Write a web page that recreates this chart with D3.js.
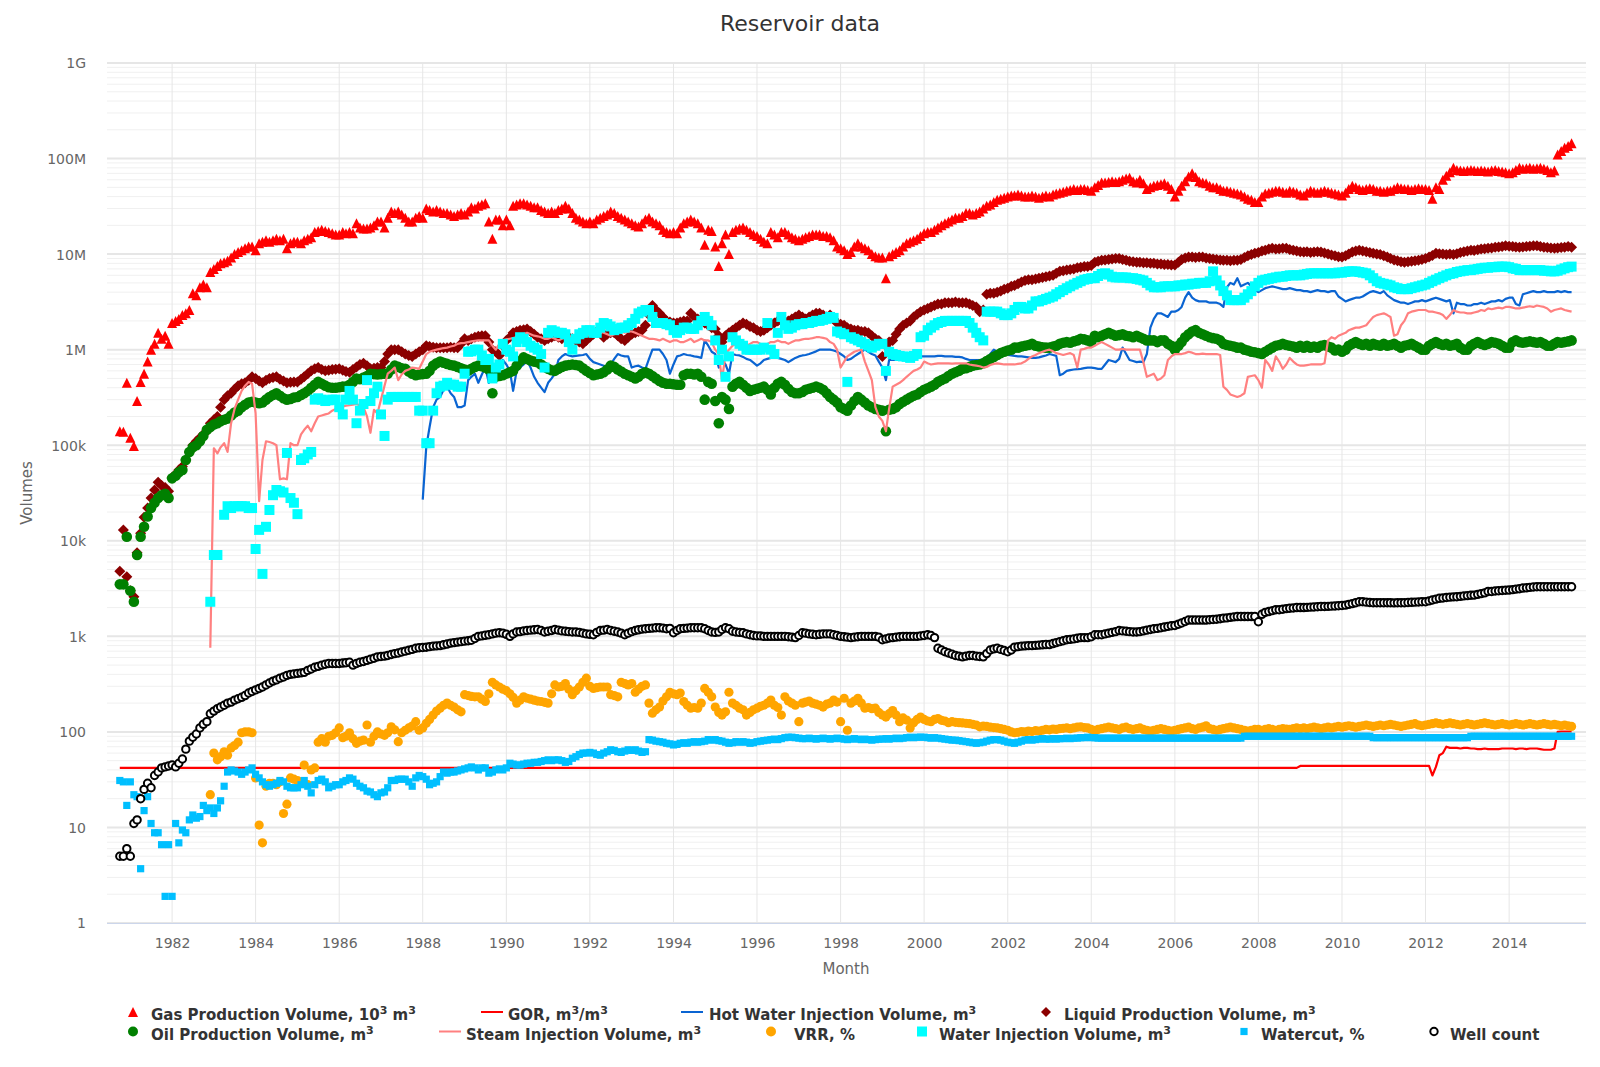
<!DOCTYPE html>
<html><head><meta charset="utf-8">
<script src="https://cdn.jsdelivr.net/npm/d3@7"></script>
<style>
html,body{margin:0;padding:0;background:#fff;}
svg{display:block;font-family:"DejaVu Sans",Verdana,sans-serif;}
svg text{font-family:"DejaVu Sans",Verdana,sans-serif;}
</style></head><body>
<svg id="chart" width="1600" height="1067"></svg>
<script>
// ---------------- DATA ----------------
// Each series: one row per year 1980..2015, monthly values (1980 starts in October, 2015 ends in July)
const chartTitle = "Reservoir data";
const xAxisTitle = "Month";
const yAxisTitle = "Volumes";
const xTickYears = [1982,1984,1986,1988,1990,1992,1994,1996,1998,2000,2002,2004,2006,2008,2010,2012,2014];
const yTickValues = [1,10,100,1e3,1e4,1e5,1e6,1e7,1e8,1e9];
const yTickLabels = ["1","10","100","1k","10k","100k","1M","10M","100M","1G"];
const seriesLabels = ["Gas Production Volume, 10^3 m^3","GOR, m^3/m^3","Hot Water Injection Volume, m^3","Liquid Production Volume, m^3","Oil Production Volume, m^3","Steam Injection Volume, m^3","VRR, %","Water Injection Volume, m^3","Watercut, %","Well count"];

const gasProduction = [
[140e3,138e3,450e3],
[120e3,98e3,290e3,460e3,560e3,750e3,1.0e6,1.15e6,1.5e6,1.3e6,1.4e6,1.15e6],
[1.9e6,2.0e6,2.1e6,2.3e6,2.4e6,2.6e6,3.9e6,3.7e6,4.5e6,4.8e6,4.5e6,6.5e6],
[7e6,7.5e6,8e6,8.2e6,8.5e6,9.2e6,10e6,10.5e6,11e6,11.5e6,12e6,12e6],
[11e6,13e6,13.5e6,14e6,13.5e6,14e6,14.5e6,14e6,14.5e6,11.5e6,13e6,13.5e6],
[13.5e6,13e6,14e6,14.5e6,15e6,17e6,17.5e6,18e6,17.5e6,17e6,16.5e6,16e6],
[16e6,17e6,16.5e6,17e6,16.5e6,21e6,19e6,18.5e6,18.5e6,19e6,20e6,22e6],
[22e6,19e6,24e6,28e6,27e6,28e6,26e6,24e6,22e6,22e6,24e6,25e6],
[24e6,30e6,29e6,28e6,29e6,28e6,27e6,27e6,26e6,25e6,26e6,27e6],
[26e6,28e6,31e6,30e6,32e6,33e6,34e6,22e6,14.5e6,23e6,23e6,20e6],
[23e6,20e6,32e6,33e6,34e6,34e6,33e6,32e6,31e6,31e6,29e6,28e6],
[27e6,28e6,27e6,29e6,30e6,32e6,30e6,27e6,24e6,23e6,22e6,21e6],
[22e6,21e6,23e6,24e6,25e6,26e6,28e6,27e6,25e6,24e6,23e6,22e6],
[21e6,20e6,19.5e6,21e6,23e6,24e6,22e6,21e6,20e6,18e6,17e6,16.5e6],
[17e6,16.5e6,19e6,21e6,22e6,23e6,22e6,21e6,19e6,12.5e6,18e6,17.5e6],
[12e6,7.5e6,13e6,16e6,10e6,17e6,18e6,18.5e6,19e6,18e6,17e6,16e6],
[15.5e6,14.5e6,13.5e6,13e6,17e6,16e6,15e6,17e6,17e6,16e6,15e6,14.5e6],
[14e6,14.5e6,15e6,15.5e6,16e6,16e6,16e6,15.5e6,15.5e6,15e6,14e6,12e6],
[11.5e6,11e6,10e6,10.5e6,12e6,13e6,12e6,11.5e6,11e6,10e6,9.5e6,9.2e6],
[9.2e6,5.6e6,9.5e6,10e6,10.5e6,11e6,12e6,13e6,13.5e6,14e6,14.5e6,15.5e6],
[16.5e6,17e6,17e6,18e6,19e6,20e6,21e6,22e6,23e6,24e6,24e6,25e6],
[27e6,27e6,26e6,27e6,28e6,30e6,32e6,33e6,35e6,37e6,38e6,39e6],
[40e6,41e6,41e6,42e6,41e6,40e6,40e6,41e6,40e6,39e6,40e6,41e6],
[40e6,42e6,43e6,44e6,45e6,46e6,47e6,48e6,47e6,48e6,48e6,47e6],
[46e6,50e6,53e6,56e6,56e6,57e6,58e6,57e6,58e6,60e6,62e6,63e6],
[58e6,56e6,60e6,55e6,48e6,50e6,52e6,53e6,54e6,55e6,52e6,48e6],
[40e6,46e6,52e6,58e6,65e6,70e6,64e6,58e6,56e6,55e6,52e6,50e6],
[50e6,48e6,46e6,46e6,45e6,44e6,43e6,42e6,40e6,38e6,37e6,35e6],
[35e6,40e6,43e6,44e6,45e6,46e6,46e6,45e6,44e6,46e6,45e6,44e6],
[42e6,41e6,44e6,46e6,45e6,44e6,45e6,46e6,45e6,44e6,43e6,42e6],
[41e6,44e6,48e6,52e6,50e6,48e6,47e6,48e6,49e6,48e6,46e6,46e6],
[45e6,46e6,46e6,48e6,50e6,49e6,48e6,48e6,47e6,48e6,49e6,48e6],
[48e6,47e6,38e6,50e6,48e6,60e6,66e6,72e6,80e6,76e6,75e6,74e6],
[75e6,76e6,75e6,74e6,75e6,74e6,73e6,75e6,76e6,74e6,73e6,72e6],
[70e6,72e6,76e6,80e6,78e6,79e6,80e6,78e6,79e6,80e6,78e6,76e6],
[72e6,75e6,110e6,120e6,130e6,135e6,145e6]
];

const gorRatio = [
[42,42,42],
[42,42,42,42,42,42,42,42,42,42,42,42],[42,42,42,42,42,42,42,42,42,42,42,42],
[42,42,42,42,42,42,42,42,42,42,42,42],[42,42,42,42,42,42,42,42,42,42,42,42],
[42,42,42,42,42,42,42,42,42,42,42,42],[42,42,42,42,42,42,42,42,42,42,42,42],
[42,42,42,42,42,42,42,42,42,42,42,42],[42,42,42,42,42,42,42,42,42,42,42,42],
[42,42,42,42,42,42,42,42,42,42,42,42],[42,42,42,42,42,42,42,42,42,42,42,42],
[42,42,42,42,42,42,42,42,42,42,42,42],[42,42,42,42,42,42,42,42,42,42,42,42],
[42,42,42,42,42,42,42,42,42,42,42,42],[42,42,42,42,42,42,42,42,42,42,42,42],
[42,42,42,42,42,42,42,42,42,42,42,42],[42,42,42,42,42,42,42,42,42,42,42,42],
[42,42,42,42,42,42,42,42,42,42,42,42],[42,42,42,42,42,42,42,42,42,42,42,42],
[42,42,42,42,42,42,42,42,42,42,42,42],[42,42,42,42,42,42,42,42,42,42,42,42],
[42,42,42,42,42,42,42,42,42,42,42,42],[42,42,42,42,42,42,42,42,42,42,42,42],
[42,42,42,42,42,42,42,42,42,42,42,42],[42,42,42,42,42,42,42,42,42,42,42,42],
[42,42,42,42,42,42,42,42,42,42,42,42],[42,42,42,42,42,42,42,42,42,42,42,42],
[42,42,42,42,42,42,42,42,42,42,42,42],[42,42,42,42,42,42,42,42,42,42,42,42],
[44,44,44,44,44,44,44,44,44,44,44,44],
[44,44,44,44,44,44,44,44,44,44,44,44],
[44,44,44,44,44,44,44,44,44,44,44,44],
[44,44,35,43,57,60,70,68,68,68,67,68],
[68,67,67,66,66,67,66,66,66,66,67,67],
[67,67,66,67,67,66,67,67,67,66,65,65],
[65,67,100,101,101,101,101]
];

const hotWaterInjection = [
[],[],[],[],[],[],[],[],
[27e3,96e3,155e3,250e3,300e3,320e3,380e3,410e3,350e3,320e3,250e3,250e3],
[260e3,480e3,520e3,560e3,450e3,550e3,650e3,450e3,500e3,560e3,620e3,780e3],
[700e3,600e3,370e3,600e3,650e3,700e3,780e3,650e3,520e3,450e3,400e3,360e3],
[450e3,500e3,560e3,780e3,850e3,900e3,870e3,850e3,860e3,870e3,880e3,900e3],
[800e3,740e3,720e3,700e3,680e3,650e3,700e3,800e3,900e3,870e3,850e3,850e3],
[650e3,670e3,680e3,650e3,630e3,800e3,1.0e6,1.0e6,1.0e6,900e3,780e3,560e3],
[700e3,850e3,870e3,900e3,880e3,870e3,850e3,840e3,820e3,1.25e6,1.1e6,950e3],
[900e3,650e3,780e3,700e3,560e3,900e3,880e3,870e3,840e3,800e3,780e3,730e3],
[680e3,720e3,780e3,800e3,820e3,850e3,820e3,800e3,780e3,740e3,780e3,820e3],
[850e3,870e3,880e3,900e3,930e3,960e3,1.0e6,1.0e6,1.0e6,1.0e6,980e3,950e3],
[900e3,850e3,780e3,800e3,850e3,900e3,950e3,1.0e6,950e3,900e3,870e3,750e3],
[650e3,480e3,780e3,780e3,780e3,780e3,800e3,820e3,840e3,850e3,850e3,850e3],
[850e3,850e3,850e3,850e3,860e3,860e3,850e3,850e3,850e3,840e3,840e3,830e3],
[800e3,780e3,780e3,780e3,780e3,790e3,800e3,900e3,1.0e6,950e3,900e3,900e3],
[880e3,870e3,860e3,850e3,850e3,840e3,830e3,820e3,820e3,830e3,850e3,870e3],
[900e3,880e3,860e3,540e3,560e3,600e3,610e3,620e3,625e3,630e3,640e3,650e3],
[650e3,640e3,630e3,630e3,700e3,780e3,760e3,740e3,800e3,1.05e6,900e3,780e3],
[760e3,740e3,750e3,740e3,900e3,1.7e6,2.1e6,2.4e6,2.4e6,2.3e6,2.2e6,2.5e6],
[2.5e6,2.6e6,2.8e6,3.5e6,4.0e6,3.5e6,3.3e6,3.2e6,3.2e6,3.2e6,3.1e6,3.1e6],
[3.1e6,3.0e6,2.8e6,4.5e6,5.0e6,4.8e6,5.6e6,4.6e6,4.8e6,5.0e6,4.6e6,4.2e6],
[4.0e6,4.2e6,4.4e6,4.5e6,4.6e6,4.5e6,4.4e6,4.3e6,4.3e6,4.4e6,4.3e6,4.2e6],
[4.2e6,4.1e6,4.1e6,4.0e6,4.1e6,4.2e6,4.1e6,4.1e6,4.0e6,4.1e6,4.1e6,3.6e6],
[3.4e6,3.2e6,3.3e6,3.4e6,3.5e6,3.5e6,3.6e6,3.8e6,4.0e6,4.1e6,4.0e6,3.9e6],
[4.1e6,3.7e6,3.5e6,3.3e6,3.2e6,3.1e6,3.1e6,3.0e6,3.1e6,3.2e6,3.2e6,3.3e6],
[3.2e6,3.3e6,3.4e6,3.5e6,3.4e6,3.3e6,3.2e6,3.3e6,2.4e6,3.1e6,3.0e6,3.0e6],
[2.9e6,2.9e6,3.0e6,3.0e6,3.1e6,3.0e6,3.1e6,3.2e6,3.2e6,3.3e6,3.2e6,3.4e6],
[3.5e6,3.5e6,3.0e6,2.9e6,3.8e6,3.9e6,4.0e6,4.1e6,4.0e6,4.0e6,4.1e6,4.0e6],
[4.0e6,4.0e6,4.1e6,4.0e6,4.1e6,4.0e6,4.0e6]
];

const liquidProduction = [
[4.8e3,13e3,4.2e3],
[3.0e3,2.6e3,7.5e3,12e3,17.6e3,22e3,28e3,34e3,41e3,38e3,36e3,33e3],
[46e3,50e3,55e3,60e3,70e3,85e3,100e3,110e3,120e3,130e3,140e3,170e3],
[185e3,200e3,250e3,300e3,330e3,350e3,385e3,420e3,440e3,450e3,480e3,520e3],
[500e3,470e3,450e3,480e3,500e3,510e3,520e3,490e3,470e3,450e3,455e3,460e3],
[460e3,490e3,520e3,560e3,600e3,630e3,650e3,620e3,600e3,610e3,620e3,625e3],
[630e3,610e3,590e3,580e3,620e3,660e3,700e3,720e3,680e3,630e3,640e3,650e3],
[650e3,750e3,900e3,1.0e6,1.0e6,1.0e6,950e3,900e3,870e3,850e3,900e3,950e3],
[1.0e6,1.1e6,1.08e6,1.06e6,1.05e6,1.05e6,1.05e6,1.05e6,1.06e6,1.05e6,1.05e6,1.15e6],
[1.3e6,1.25e6,1.3e6,1.35e6,1.38e6,1.4e6,1.4e6,1.2e6,1.0e6,950e3,870e3,1.1e6],
[1.25e6,1.35e6,1.5e6,1.55e6,1.6e6,1.62e6,1.65e6,1.55e6,1.45e6,1.35e6,1.3e6,1.25e6],
[1.3e6,1.35e6,1.4e6,1.35e6,1.3e6,1.35e6,1.35e6,1.3e6,1.25e6,1.2e6,1.15e6,1.25e6],
[1.35e6,1.45e6,1.55e6,1.65e6,1.35e6,1.45e6,1.5e6,1.5e6,1.4e6,1.3e6,1.25e6,1.35e6],
[1.45e6,1.5e6,1.55e6,1.6e6,1.8e6,2.3e6,2.9e6,2.6e6,2.4e6,2.2e6,2.0e6,1.95e6],
[1.9e6,1.9e6,1.95e6,2.0e6,2.0e6,2.4e6,2.2e6,2.1e6,2.0e6,1.9e6,1.8e6,1.7e6],
[1.65e6,1.4e6,1.2e6,1.4e6,1.5e6,1.6e6,1.7e6,1.8e6,1.9e6,1.85e6,1.75e6,1.7e6],
[1.6e6,1.55e6,1.6e6,1.7e6,1.8e6,1.9e6,2.0e6,2.0e6,1.95e6,2.0e6,2.1e6,2.2e6],
[2.3e6,2.2e6,2.1e6,2.2e6,2.3e6,2.4e6,2.4e6,2.3e6,2.2e6,2.3e6,2.1e6,1.9e6],
[1.85e6,1.8e6,1.7e6,1.65e6,1.6e6,1.6e6,1.55e6,1.55e6,1.5e6,1.4e6,1.3e6,1.25e6],
[850e3,1.1e6,1.2e6,1.25e6,1.45e6,1.65e6,1.8e6,1.9e6,2.0e6,2.2e6,2.35e6,2.5e6],
[2.6e6,2.7e6,2.8e6,2.9e6,3.0e6,3.0e6,3.1e6,3.1e6,3.1e6,3.15e6,3.1e6,3.1e6],
[3.1e6,3.0e6,2.9e6,2.8e6,2.5e6,2.6e6,3.8e6,3.9e6,3.9e6,4.0e6,4.1e6,4.3e6],
[4.4e6,4.6e6,4.7e6,4.9e6,5.1e6,5.3e6,5.4e6,5.4e6,5.5e6,5.6e6,5.7e6,5.8e6],
[5.9e6,6.0e6,6.3e6,6.6e6,6.7e6,6.8e6,6.9e6,7.0e6,7.2e6,7.3e6,7.4e6,7.4e6],
[7.6e6,8.2e6,8.4e6,8.6e6,8.7e6,8.8e6,8.9e6,9.0e6,9.0e6,8.8e6,8.6e6,8.4e6],
[8.3e6,8.2e6,8.2e6,8.1e6,8.1e6,8.0e6,8.0e6,7.9e6,7.9e6,7.8e6,7.8e6,7.7e6],
[7.7e6,8.2e6,8.8e6,9.1e6,9.3e6,9.3e6,9.2e6,9.3e6,9.3e6,9.1e6,9.0e6,8.9e6],
[8.8e6,8.7e6,8.6e6,8.6e6,8.5e6,8.6e6,8.6e6,8.8e6,9.2e6,9.6e6,9.9e6,10.2e6],
[10.4e6,10.8e6,11.0e6,11.3e6,11.5e6,11.3e6,11.4e6,11.5e6,11.5e6,11.2e6,11.0e6,10.8e6],
[10.6e6,10.5e6,10.6e6,10.4e6,10.5e6,10.6e6,10.5e6,10.3e6,10.0e6,9.8e6,9.6e6,9.4e6],
[9.3e6,9.6e6,10.0e6,10.5e6,10.8e6,11.0e6,10.8e6,10.6e6,10.4e6,10.2e6,10.0e6,9.9e6],
[9.6e6,9.3e6,9.0e6,8.7e6,8.5e6,8.3e6,8.2e6,8.3e6,8.4e6,8.5e6,8.6e6,8.8e6],
[9.0e6,9.3e6,9.7e6,10.2e6,10.1e6,10.0e6,9.9e6,10.0e6,9.9e6,10.1e6,10.4e6,10.6e6],
[10.8e6,11.0e6,10.9e6,11.1e6,11.3e6,11.4e6,11.5e6,11.6e6,11.8e6,11.9e6,12.0e6,12.2e6],
[12.1e6,12.0e6,11.9e6,11.8e6,11.9e6,12.0e6,12.1e6,12.2e6,12.2e6,12.0e6,11.8e6,11.7e6],
[11.6e6,11.5e6,11.6e6,11.7e6,11.8e6,12.0e6,11.8e6]
];

const oilProduction = [
[3.5e3,3.5e3,11e3],
[3.0e3,2.3e3,7.1e3,11e3,14e3,18e3,22e3,25e3,28e3,30e3,31e3,28e3],
[45e3,48e3,52e3,55e3,70e3,85e3,95e3,100e3,110e3,125e3,145e3,155e3],
[165e3,170e3,178e3,185e3,190e3,205e3,220e3,230e3,250e3,265e3,280e3,285e3],
[280e3,275e3,280e3,300e3,320e3,335e3,350e3,330e3,310e3,300e3,305e3,315e3],
[320e3,335e3,350e3,370e3,400e3,430e3,460e3,440e3,420e3,405e3,400e3,400e3],
[405e3,410e3,410e3,430e3,460e3,500e3,490e3,510e3,530e3,560e3,555e3,550e3],
[555e3,560e3,560e3,620e3,680e3,660e3,640e3,630e3,590e3,560e3,540e3,550e3],
[555e3,560e3,600e3,680e3,720e3,750e3,730e3,710e3,690e3,680e3,660e3,640e3],
[620e3,600e3,630e3,660e3,680e3,670e3,650e3,620e3,350e3,520e3,530e3,540e3],
[560e3,580e3,600e3,680e3,760e3,830e3,800e3,770e3,750e3,740e3,700e3,660e3],
[630e3,610e3,600e3,630e3,660e3,680e3,690e3,700e3,690e3,680e3,640e3,600e3],
[570e3,540e3,550e3,560e3,580e3,620e3,680e3,660e3,620e3,590e3,560e3,540e3],
[520e3,500e3,520e3,560e3,580e3,560e3,530e3,500e3,470e3,450e3,440e3,440e3],
[435e3,430e3,430e3,540e3,560e3,560e3,550e3,560e3,520e3,300e3,460e3,440e3],
[290e3,170e3,320e3,300e3,240e3,410e3,440e3,460e3,430e3,400e3,370e3,380e3],
[390e3,400e3,410e3,380e3,340e3,400e3,440e3,460e3,430e3,390e3,360e3,350e3],
[350e3,360e3,380e3,390e3,400e3,410e3,400e3,380e3,350e3,320e3,300e3,280e3],
[250e3,240e3,230e3,260e3,290e3,320e3,300e3,280e3,260e3,250e3,240e3,235e3],
[230e3,140e3,235e3,240e3,250e3,270e3,285e3,300e3,315e3,330e3,340e3,360e3],
[380e3,395e3,410e3,430e3,460e3,480e3,500e3,530e3,560e3,580e3,600e3,630e3],
[640e3,660e3,680e3,690e3,700e3,720e3,760e3,800e3,840e3,880e3,920e3,950e3],
[980e3,1.0e6,1.05e6,1.05e6,1.08e6,1.1e6,1.12e6,1.15e6,1.1e6,1.08e6,1.06e6,1.05e6],
[1.05e6,1.08e6,1.1e6,1.15e6,1.18e6,1.2e6,1.18e6,1.22e6,1.25e6,1.3e6,1.28e6,1.25e6],
[1.2e6,1.4e6,1.35e6,1.4e6,1.45e6,1.5e6,1.45e6,1.4e6,1.42e6,1.45e6,1.4e6,1.38e6],
[1.35e6,1.4e6,1.35e6,1.3e6,1.25e6,1.25e6,1.25e6,1.2e6,1.25e6,1.25e6,1.15e6,1.1e6],
[1.0e6,1.1e6,1.2e6,1.35e6,1.45e6,1.55e6,1.6e6,1.5e6,1.45e6,1.4e6,1.35e6,1.32e6],
[1.3e6,1.25e6,1.15e6,1.12e6,1.1e6,1.08e6,1.05e6,1.05e6,1.0e6,0.98e6,0.95e6,0.94e6],
[0.92e6,0.9e6,0.95e6,1.0e6,1.05e6,1.1e6,1.12e6,1.15e6,1.12e6,1.1e6,1.08e6,1.05e6],
[1.1e6,1.05e6,1.1e6,1.05e6,1.08e6,1.05e6,1.1e6,1.12e6,1.08e6,1.05e6,0.98e6,1.0e6],
[0.95e6,1.0e6,1.1e6,1.15e6,1.2e6,1.15e6,1.12e6,1.15e6,1.1e6,1.15e6,1.12e6,1.1e6],
[1.15e6,1.1e6,1.12e6,1.15e6,1.1e6,1.05e6,1.1e6,1.12e6,1.15e6,1.1e6,1.05e6,1.0e6],
[1.0e6,1.1e6,1.15e6,1.2e6,1.15e6,1.12e6,1.15e6,1.1e6,1.12e6,1.15e6,1.05e6,1.0e6],
[1.0e6,1.1e6,1.15e6,1.2e6,1.15e6,1.12e6,1.15e6,1.2e6,1.18e6,1.15e6,1.1e6,1.05e6],
[1.05e6,1.2e6,1.25e6,1.2e6,1.18e6,1.2e6,1.22e6,1.2e6,1.18e6,1.2e6,1.15e6,1.1e6],
[1.1e6,1.15e6,1.2e6,1.18e6,1.2e6,1.22e6,1.25e6]
];

const steamInjection = [
[],
[],
[null,null,null,null,null,null,null,null,null,null,null,760],
[93e3,82e3,95e3,105e3,85e3,170e3,240e3,300e3,370e3,420e3,460e3,440e3],
[215e3,26e3,70e3,110e3,108e3,105e3,100e3,44e3,45e3,44e3,105e3,100e3],
[100e3,130e3,145e3,160e3,140e3,170e3,200e3,205e3,210e3,215e3,230e3,240e3],
[250e3,255e3,260e3,262e3,265e3,270e3,260e3,250e3,200e3,135e3,235e3,215e3],
[300e3,420e3,560e3,600e3,650e3,480e3,550e3,600e3,620e3,650e3,640e3,630e3],
[750e3,900e3,950e3,980e3,1.0e6,1.02e6,1.04e6,1.05e6,1.08e6,1.1e6,1.15e6,1.17e6],
[1.18e6,1.2e6,1.22e6,1.24e6,1.25e6,1.25e6,1.25e6,1.25e6,1.1e6,1.0e6,1.15e6,1.25e6],
[1.28e6,1.3e6,1.32e6,1.35e6,1.4e6,1.45e6,1.5e6,1.45e6,1.4e6,1.38e6,1.35e6,1.3e6],
[1.3e6,1.35e6,1.3e6,1.25e6,1.3e6,1.35e6,1.4e6,1.35e6,1.3e6,1.3e6,1.35e6,1.4e6],
[1.4e6,1.45e6,1.5e6,1.55e6,1.5e6,1.45e6,1.4e6,1.45e6,1.5e6,1.55e6,1.5e6,1.55e6],
[1.55e6,1.5e6,1.45e6,1.4e6,1.35e6,1.3e6,1.3e6,1.28e6,1.25e6,1.3e6,1.25e6,1.2e6],
[1.25e6,1.25e6,1.2e6,1.2e6,1.25e6,1.3e6,1.2e6,1.25e6,1.3e6,1.25e6,1.25e6,1.2e6],
[1.0e6,900e3,480e3,900e3,1.0e6,1.1e6,1.15e6,1.2e6,1.15e6,1.1e6,1.15e6,1.2e6],
[1.2e6,1.15e6,1.1e6,1.15e6,1.2e6,1.2e6,1.25e6,1.2e6,1.2e6,1.15e6,1.2e6,1.25e6],
[1.25e6,1.28e6,1.3e6,1.3e6,1.32e6,1.35e6,1.35e6,1.33e6,1.3e6,1.2e6,1.15e6,1.0e6],
[650e3,750e3,850e3,900e3,950e3,980e3,1.0e6,750e3,600e3,480e3,250e3,200e3],
[180e3,140e3,240e3,410e3,430e3,450e3,480e3,520e3,560e3,600e3,620e3,650e3],
[750e3,720e3,700e3,710e3,720e3,720e3,720e3,720e3,715e3,720e3,720e3,720e3],
[720e3,700e3,690e3,680e3,670e3,650e3,660e3,690e3,710e3,720e3,710e3,700e3],
[700e3,700e3,700e3,710e3,720e3,750e3,800e3,850e3,880e3,920e3,950e3,980e3],
[1.0e6,960e3,920e3,900e3,880e3,900e3,920e3,880e3,650e3,1.0e6,1.02e6,1.05e6],
[1.05e6,1.1e6,1.15e6,1.2e6,1.15e6,1.1e6,1.05e6,1.0e6,1.0e6,1.02e6,1.0e6,1.0e6],
[1.0e6,1.0e6,1.0e6,740e3,520e3,540e3,560e3,480e3,500e3,540e3,780e3,850e3],
[900e3,900e3,900e3,920e3,950e3,930e3,900e3,900e3,910e3,900e3,900e3,900e3],
[900e3,880e3,410e3,380e3,340e3,330e3,320e3,330e3,350e3,520e3,530e3,540e3],
[480e3,400e3,780e3,700e3,600e3,850e3,750e3,630e3,700e3,820e3,750e3,700e3],
[680e3,680e3,690e3,700e3,700e3,700e3,700e3,720e3,1.25e6,1.35e6,1.3e6,1.4e6],
[1.45e6,1.5e6,1.6e6,1.65e6,1.7e6,1.7e6,1.75e6,1.8e6,2.0e6,2.2e6,2.3e6,2.35e6],
[2.4e6,2.3e6,2.2e6,1.4e6,1.45e6,1.8e6,2.0e6,2.4e6,2.5e6,2.55e6,2.6e6,2.6e6],
[2.6e6,2.5e6,2.5e6,2.45e6,2.4e6,2.3e6,2.1e6,2.3e6,2.6e6,2.5e6,2.45e6,2.45e6],
[2.4e6,2.4e6,2.45e6,2.5e6,2.6e6,2.55e6,2.7e6,2.65e6,2.7e6,2.75e6,2.7e6,2.8e6],
[2.8e6,2.75e6,2.7e6,2.7e6,2.75e6,2.8e6,2.85e6,2.8e6,2.9e6,2.85e6,2.8e6,2.7e6],
[2.5e6,2.6e6,2.65e6,2.7e6,2.6e6,2.55e6,2.5e6]
];

const vrrPercent = [
[],[],
[null,null,null,null,null,null,null,null,null,null,null,22],
[60,51,55,62,57,68,72,78,98,100,100,98],
[33,10.6,6.9,27,29,29,28,30,14,17.5,33,32],
[31,29,45,28,40,42,78,85,78,90,92,98],
[110,87,90,98,85,76,80,82,118,78,90,100],
[95,92,98,113,105,79,98,104,110,115,128,104],
[110,123,135,150,165,177,190,200,190,182,170,162],
[245,240,235,233,233,220,208,250,330,310,295,280],
[270,250,230,200,215,233,225,220,215,210,208,204],
[200,250,310,295,300,320,280,245,270,295,330,365],
[300,285,290,295,295,295,245,240,233,330,320,310],
[320,260,280,300,310,200,157,170,182,210,233,260],
[250,245,255,208,190,177,180,177,200,285,260,233],
[182,160,150,162,260,200,190,177,170,150,160,170],
[177,185,190,200,215,190,180,150,233,210,200,190],
[128,200,205,210,200,195,190,182,195,200,215,205],
[128,225,104,200,210,225,200,177,180,175,177,160],
[150,143,155,167,150,128,140,133,110,125,135,143],
[135,130,128,135,138,132,130,125,128,126,125,124],
[123,122,120,118,113,115,114,112,111,110,108,106],
[104,100,98,99,101,100,102,101,103,102,104,106],
[105,107,106,108,109,110,108,110,112,113,111,110],
[106,104,106,108,110,112,110,108,106,110,112,108],
[106,108,110,106,104,102,104,106,108,106,104,102],
[104,106,108,110,112,108,106,110,112,116,108,106],
[104,106,108,110,112,110,108,106,104,102,104,106],
[106,104,106,108,106,104,106,108,107,106,108,110],
[108,110,108,110,112,110,108,110,112,110,112,114],
[112,114,116,114,112,114,116,118,116,114,116,118],
[116,118,120,118,116,114,116,118,120,122,118,116],
[118,120,122,124,122,120,122,124,122,120,118,120],
[122,120,118,120,122,124,122,120,118,120,122,120],
[118,120,122,120,118,120,122,120,118,120,122,120],
[118,120,118,116,118,116,114]
];

const waterInjection = [
[],[],
[null,null,null,null,null,null,null,null,null,null,null,2.3e3],
[7.1e3,7.1e3,null,18.7e3,23e3,22e3,23e3,23e3,23e3,23e3,22e3,22e3],
[8.2e3,13e3,4.5e3,14e3,21e3,30e3,34e3,33e3,32e3,83e3,28e3,25e3],
[19e3,70e3,73e3,80e3,85e3,300e3,310e3,300e3,290e3,295e3,300e3,300e3],
[250e3,210e3,300e3,370e3,300e3,170e3,230e3,270e3,480e3,290e3,350e3,410e3],
[210e3,125e3,300e3,320e3,320e3,320e3,320e3,320e3,320e3,320e3,320e3,230e3],
[230e3,105e3,105e3,230e3,350e3,410e3,420e3,450e3,430e3,430e3,410e3,410e3],
[560e3,950e3,960e3,1.0e6,1.0e6,870e3,780e3,800e3,500e3,650e3,700e3,1.15e6],
[1.0e6,950e3,850e3,1.2e6,1.35e6,1.3e6,1.2e6,1.1e6,1.05e6,1.0e6,900e3,650e3],
[1.5e6,1.6e6,1.55e6,1.5e6,1.5e6,1.45e6,1.2e6,1.0e6,1.3e6,1.45e6,1.5e6,1.6e6],
[1.6e6,1.5e6,1.5e6,1.7e6,1.9e6,1.85e6,1.75e6,1.6e6,1.65e6,1.7e6,1.7e6,1.8e6],
[1.9e6,2.1e6,2.4e6,2.5e6,2.6e6,2.6e6,2.2e6,1.9e6,1.9e6,1.9e6,1.85e6,1.8e6],
[1.6e6,1.5e6,1.6e6,1.7e6,1.7e6,1.65e6,1.65e6,1.8e6,2.0e6,2.2e6,2.0e6,1.8e6],
[1.25e6,780e3,1.0e6,520e3,850e3,1.35e6,1.25e6,1.15e6,1.1e6,1.0e6,1.0e6,1.0e6],
[1.0e6,1.0e6,1.05e6,1.9e6,1.0e6,900e3,1.5e6,2.2e6,1.8e6,1.65e6,1.7e6,1.8e6],
[1.85e6,1.85e6,1.9e6,1.9e6,1.95e6,2.0e6,2.0e6,2.05e6,2.1e6,2.2e6,2.15e6,1.55e6],
[1.5e6,1.45e6,460e3,1.35e6,1.3e6,1.25e6,1.2e6,1.15e6,1.1e6,1.05e6,1.1e6,1.15e6],
[1.15e6,600e3,950e3,900e3,880e3,860e3,850e3,840e3,820e3,860e3,900e3,1.35e6],
[1.4e6,1.6e6,1.7e6,1.8e6,1.9e6,1.95e6,2.0e6,2.0e6,2.0e6,2.0e6,2.0e6,2.0e6],
[2.0e6,1.9e6,1.7e6,1.5e6,1.35e6,1.25e6,2.5e6,2.5e6,2.5e6,2.5e6,2.4e6,2.3e6],
[2.3e6,2.4e6,2.6e6,2.8e6,2.8e6,2.7e6,2.7e6,2.9e6,3.2e6,3.2e6,3.3e6,3.4e6],
[3.5e6,3.6e6,3.8e6,4.0e6,4.2e6,4.4e6,4.6e6,4.8e6,5.0e6,5.2e6,5.4e6,5.5e6],
[5.6e6,5.6e6,5.9e6,6.2e6,6.3e6,6.1e6,5.8e6,5.7e6,5.7e6,5.7e6,5.7e6,5.6e6],
[5.6e6,5.5e6,5.4e6,5.3e6,5.0e6,4.7e6,4.5e6,4.5e6,4.5e6,4.6e6,4.6e6,4.6e6],
[4.6e6,4.7e6,4.7e6,4.8e6,4.8e6,4.9e6,4.9e6,5.0e6,5.0e6,5.0e6,5.2e6,6.6e6],
[5.3e6,4.7e6,4.1e6,3.7e6,3.3e6,3.3e6,3.3e6,3.3e6,3.5e6,3.8e6,4.1e6,4.6e6],
[5.0e6,5.3e6,5.4e6,5.5e6,5.6e6,5.7e6,5.8e6,5.8e6,5.9e6,6.0e6,6.0e6,6.0e6],
[6.0e6,6.1e6,6.2e6,6.3e6,6.3e6,6.3e6,6.3e6,6.3e6,6.3e6,6.3e6,6.3e6,6.4e6],
[6.4e6,6.5e6,6.6e6,6.6e6,6.6e6,6.5e6,6.4e6,6.3e6,6.0e6,5.6e6,5.2e6,5.0e6],
[4.9e6,4.8e6,4.7e6,4.5e6,4.4e6,4.3e6,4.3e6,4.3e6,4.4e6,4.5e6,4.6e6,4.7e6],
[4.8e6,5.0e6,5.2e6,5.4e6,5.6e6,5.8e6,6.0e6,6.2e6,6.3e6,6.5e6,6.6e6,6.7e6],
[6.8e6,6.8e6,6.9e6,7.0e6,7.1e6,7.2e6,7.2e6,7.3e6,7.3e6,7.4e6,7.4e6,7.4e6],
[7.3e6,7.1e6,7.0e6,6.8e6,6.8e6,6.8e6,6.8e6,6.8e6,6.8e6,6.8e6,6.7e6,6.7e6],
[6.6e6,6.6e6,6.7e6,6.9e6,7.1e6,7.3e6,7.4e6]
];

const watercutPercent = [
[31,30,17],
[30,22,21,3.7,15,21,11,8.8,8.8,6.6,1.9,6.6],
[1.9,11,6.9,9.4,8.8,12,13.5,12.5,13,17,15,16],
[14,16,19,27,38,40,39,38,36,38,40,42],
[36,33,30,28,27,28,29,31,30,27,26,26],
[26,28,31,27,23,28,31,32,30,26,27,28],
[28,30,31,33,32,29,27,26,24,23.5,22,21],
[23,23.5,26,31,31,32,32,32,30,27,33,35],
[34,32,28,29,30,34,38,37,38,38,39,40],
[41,42,43,42,40,42,42,37,38,40,41,40],
[42,47,46,45,45,46,47,47,48,48,49,50],
[51,50,51,51,50,48,49,53,55,58,60,60],
[61,60,58,57,60,62,65,64,62,61,63,65],
[64,65,63,61,62,83,82,80,79,78,76,75],
[73,74,76,77,76,78,79,78,79,80,83,82],
[83,81,80,78,76,77,79,78,79,78,76,77],
[79,80,81,82,83,84,83,85,87,88,88,87],
[86,85,85,86,85,84,85,86,85,84,85,86],
[85,84,83,84,85,84,83,84,83,82,83,84],
[84,85,84,85,86,85,86,87,88,87,88,88],
[88,87,86,87,86,85,84,83,82,82,81,80],
[79,78,77,76,77,78,80,82,83,83,82,80],
[78,77,76,78,80,82,83,82,83,84,85,84],
[84,85,84,85,85,86,85,86,86,87,87,88],
[87,87,86,86,86,86,86,86,86,86,86,86],
[86,86,86,86,86,86,86,86,86,86,86,86],
[86,86,86,86,86,86,86,86,86,86,86,86],
[86,86,86,86,86,86,86,86,90,90,90,90],
[90,90,90,90,90,90,90,90,90,90,90,90],
[90,90,90,90,90,90,90,90,90,90,90,90],
[90,90,90,90,90,90,90,90,90,87,87,87],
[87,87,87,87,87,87,87,87,87,87,87,87],
[87,87,87,87,87,87,87,87,87,87,87,87],
[87,90,90,90,90,90,90,90,90,90,90,90],
[90,90,90,90,90,90,90,90,90,90,90,90],
[90,90,90,90,90,90,90]
];

const wellCount = [
[5,5,6],
[5,11,12,20,25,29,26,35,38,42,43,44],
[45,43,47,52,66,80,88,95,110,120,128,155],
[165,175,182,190,200,205,215,222,230,240,255,265],
[275,285,295,310,325,340,350,365,375,390,400,405],
[410,415,420,440,455,475,485,500,510,520,520,520],
[520,525,530,535,500,520,535,545,560,575,590,610],
[615,620,630,645,660,670,685,700,715,730,750,760],
[765,770,780,790,795,800,815,830,850,860,870,880],
[890,900,910,950,1000,1010,1025,1040,1060,1080,1090,1080],
[1050,1000,1060,1110,1120,1140,1150,1160,1170,1180,1150,1110],
[1130,1150,1180,1160,1140,1130,1120,1110,1110,1100,1080,1060],
[1050,1040,1100,1150,1160,1180,1150,1130,1110,1080,1040,1080],
[1120,1150,1170,1190,1200,1210,1220,1230,1230,1220,1200,1210],
[1090,1150,1200,1210,1220,1230,1230,1230,1230,1200,1150,1110],
[1100,1110,1180,1230,1200,1130,1110,1100,1090,1060,1040,1020],
[1010,1010,1000,1000,1000,1000,1000,1000,1000,990,980,970],
[1020,1090,1080,1060,1050,1040,1050,1060,1060,1060,1040,1020],
[1000,990,980,970,980,990,1000,1000,1000,1000,1000,980],
[920,940,960,970,980,990,1000,1000,1000,1000,1000,1010],
[1020,1040,1020,970,750,720,690,670,650,630,620,610],
[620,630,630,620,615,610,660,720,740,750,730,710],
[690,720,770,780,790,795,800,800,805,810,815,820],
[820,840,860,880,900,920,930,940,955,970,970,970],
[990,1040,1040,1040,1060,1080,1100,1120,1150,1140,1130,1120],
[1110,1110,1120,1140,1160,1180,1200,1210,1230,1250,1270,1290],
[1300,1340,1380,1430,1480,1480,1480,1480,1480,1480,1490,1500],
[1510,1530,1550,1560,1580,1600,1610,1610,1610,1610,1610,1610],
[1420,1700,1780,1820,1860,1900,1900,1920,1950,1970,1980,2000],
[2000,2000,2010,2020,2030,2040,2050,2050,2060,2070,2080,2090],
[2100,2120,2160,2200,2250,2300,2300,2280,2260,2250,2250,2250],
[2250,2250,2250,2240,2250,2250,2250,2260,2270,2280,2290,2300],
[2300,2350,2400,2450,2500,2520,2550,2570,2590,2600,2620,2650],
[2670,2690,2700,2750,2800,2850,2950,2950,2980,3000,3020,3040],
[3050,3080,3120,3150,3200,3220,3250,3280,3300,3300,3300,3300],
[3300,3300,3300,3300,3300,3300,3300]
];

// ---------------- LAYOUT ----------------
const FONT = "DejaVu Sans, Verdana, sans-serif";
const plot = {left:107, right:1586, top:63, bottom:923};
const svg = d3.select("#chart");

const x = d3.scaleTime()
  .domain([new Date(1980,5,11), new Date(2015,10,4)])
  .range([plot.left, plot.right]);
const y = d3.scaleLog().domain([1,1e9]).range([plot.bottom, plot.top]);

function monthly(rows){
  const out = [];
  rows.forEach((row, yi) => {
    const year = 1980 + yi;
    const m0 = yi === 0 ? 9 : 0;
    row.forEach((v, k) => {
      if (v != null) out.push({date: new Date(year, m0 + k, 1), value: v});
    });
  });
  return out;
}

// Gridlines
const grid = svg.append("g");
for (let d = 0; d < 9; d++) {
  for (let k = 2; k <= 9; k++) {
    const v = k * Math.pow(10, d);
    grid.append("line").attr("x1", plot.left).attr("x2", plot.right)
      .attr("y1", y(v)).attr("y2", y(v)).attr("stroke", "#f0f0f0").attr("stroke-width", 1);
  }
}
yTickValues.forEach(v => {
  grid.append("line").attr("x1", plot.left).attr("x2", plot.right)
    .attr("y1", y(v)).attr("y2", y(v)).attr("stroke", "#e6e6e6").attr("stroke-width", 2);
});
xTickYears.forEach(yr => {
  const xv = x(new Date(yr,0,1));
  grid.append("line").attr("x1", xv).attr("x2", xv)
    .attr("y1", plot.top).attr("y2", plot.bottom).attr("stroke", "#e6e6e6").attr("stroke-width", 1);
});
svg.append("line").attr("x1", plot.left).attr("x2", plot.right)
  .attr("y1", plot.bottom + 0.5).attr("y2", plot.bottom + 0.5).attr("stroke", "#ccd6eb");

// Axis labels
const yAxis = d3.axisLeft(y).tickValues(yTickValues).tickFormat((d,i) => yTickLabels[i]).tickSize(0).tickPadding(0);
const yg = svg.append("g").attr("transform", `translate(86,0)`).call(yAxis)
  .attr("font-family", FONT).attr("font-size", 14);
yg.select(".domain").remove();
yg.selectAll("text").attr("fill", "#666").attr("x", 0).attr("dy", "0.35em");

const xAxis = d3.axisBottom(x).tickValues(xTickYears.map(yr => new Date(yr,0,1)))
  .tickFormat(d3.timeFormat("%Y")).tickSize(0).tickPadding(0);
const xg = svg.append("g").attr("transform", `translate(0,${plot.bottom})`).call(xAxis)
  .attr("font-family", FONT).attr("font-size", 14);
xg.select(".domain").remove();
xg.selectAll("text").attr("fill", "#666").attr("y", 25).attr("dy", 0);

svg.append("text").attr("x", 846).attr("y", 974).attr("text-anchor", "middle")
  .attr("fill", "#666").attr("font-family", FONT).attr("font-size", 15).text(xAxisTitle);
svg.append("text").attr("transform", "translate(32,493) rotate(-90)").attr("text-anchor", "middle")
  .attr("fill", "#666").attr("font-family", FONT).attr("font-size", 15).text(yAxisTitle);
svg.append("text").attr("x", 800).attr("y", 31).attr("text-anchor", "middle")
  .attr("fill", "#333").attr("font-family", FONT).attr("font-size", 22).text(chartTitle);

// Marker shapes
const shapes = {
  triangle: r => `M0,${-r}L${r},${r}L${-r},${r}Z`,
  diamond: r => `M0,${-r}L${r},0L0,${r}L${-r},0Z`,
  square: r => `M${-r},${-r}h${2*r}v${2*r}h${-2*r}Z`
};

const seriesDefs = [
  {rows: gasProduction, type: "marker", shape: "triangle", r: 5, color: "#ff0000"},
  {rows: gorRatio, type: "line", color: "#ff0000"},
  {rows: hotWaterInjection, type: "line", color: "#0a64d2"},
  {rows: liquidProduction, type: "marker", shape: "diamond", r: 5.5, color: "#8b0000"},
  {rows: oilProduction, type: "marker", shape: "circle", r: 5.3, color: "#008000"},
  {rows: steamInjection, type: "line", color: "#ff8080"},
  {rows: vrrPercent, type: "marker", shape: "circle", r: 4.6, color: "#ffa500"},
  {rows: waterInjection, type: "marker", shape: "square", r: 5, color: "#00ffff"},
  {rows: watercutPercent, type: "marker", shape: "square", r: 3.6, color: "#00bfff"},
  {rows: wellCount, type: "marker", shape: "open", r: 3.7, color: "#000000"}
];

const plotG = svg.append("g");
const line = d3.line().x(d => x(d.date)).y(d => y(d.value));
seriesDefs.forEach(s => {
  const pts = monthly(s.rows);
  if (s.type === "line") {
    plotG.append("path").datum(pts).attr("d", line).attr("fill", "none")
      .attr("stroke", s.color).attr("stroke-width", 2.2).attr("stroke-linejoin", "round");
  } else if (s.shape === "circle") {
    plotG.append("g").selectAll("circle").data(pts).join("circle")
      .attr("cx", d => x(d.date)).attr("cy", d => y(d.value)).attr("r", s.r).attr("fill", s.color);
  } else if (s.shape === "open") {
    plotG.append("g").selectAll("circle").data(pts).join("circle")
      .attr("cx", d => x(d.date)).attr("cy", d => y(d.value)).attr("r", s.r)
      .attr("fill", "#fff").attr("stroke", s.color).attr("stroke-width", 2);
  } else {
    plotG.append("g").selectAll("path").data(pts).join("path")
      .attr("transform", d => `translate(${x(d.date)},${y(d.value)})`)
      .attr("d", shapes[s.shape](s.r)).attr("fill", s.color);
  }
});

// Legend
const legendPos = [
  {sx:133, tx:151, row:0}, {sx:492, tx:508, row:0}, {sx:692, tx:709, row:0}, {sx:1046, tx:1064, row:0},
  {sx:133, tx:151, row:1}, {sx:450, tx:466, row:1}, {sx:771, tx:794, row:1}, {sx:922, tx:939, row:1},
  {sx:1244, tx:1261, row:1}, {sx:1434, tx:1450, row:1}
];
const rowSymY = [1012, 1031.5], rowTextY = [1019.5, 1039.5];
const lg = svg.append("g");
seriesDefs.forEach((s, i) => {
  const p = legendPos[i];
  const sy = rowSymY[p.row];
  if (s.type === "line") {
    lg.append("line").attr("x1", p.sx - 11).attr("x2", p.sx + 11).attr("y1", sy).attr("y2", sy)
      .attr("stroke", s.color).attr("stroke-width", 2);
  } else if (s.shape === "circle") {
    lg.append("circle").attr("cx", p.sx).attr("cy", sy).attr("r", 5).attr("fill", s.color);
  } else if (s.shape === "open") {
    lg.append("circle").attr("cx", p.sx).attr("cy", sy).attr("r", 3.7)
      .attr("fill", "#fff").attr("stroke", s.color).attr("stroke-width", 2);
  } else {
    lg.append("path").attr("transform", `translate(${p.sx},${sy})`)
      .attr("d", shapes[s.shape](Math.min(s.r, 5))).attr("fill", s.color);
  }
  const t = lg.append("text").attr("x", p.tx).attr("y", rowTextY[p.row])
    .attr("fill", "#333").attr("font-family", FONT).attr("font-size", 15).attr("font-weight", "bold");
  const parts = seriesLabels[i].split(/\^(\d)/);
  let raised = false;
  parts.forEach((part, j) => {
    if (part === "") return;
    if (j % 2 === 1) {
      t.append("tspan").attr("dy", -6).attr("font-size", 11).text(part);
      raised = true;
    } else {
      const ts = t.append("tspan").text(part);
      if (raised) { ts.attr("dy", 6); raised = false; }
    }
  });
});
</script>
</body></html>
